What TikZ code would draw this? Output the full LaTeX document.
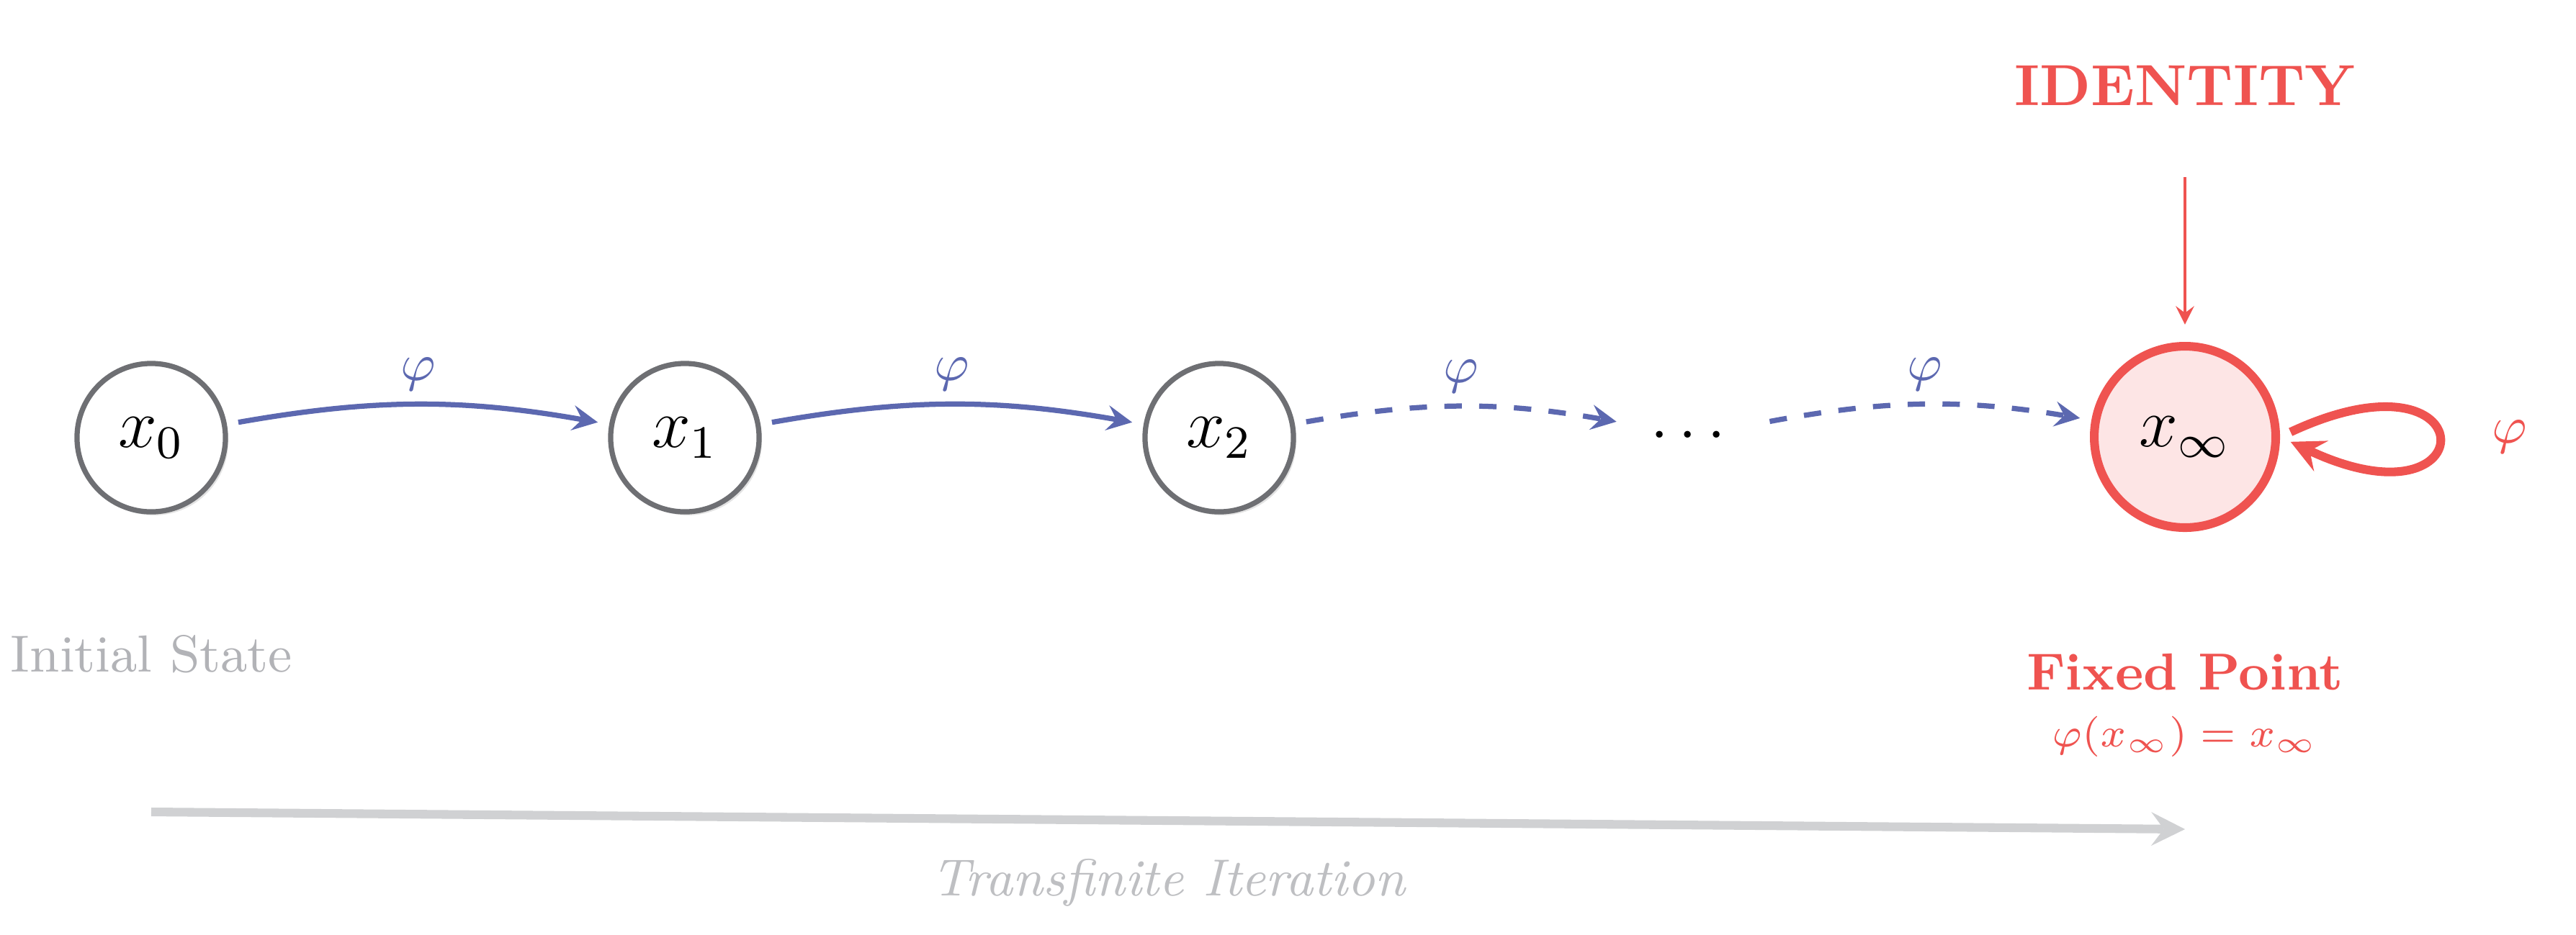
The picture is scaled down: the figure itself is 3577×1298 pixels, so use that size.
\documentclass[tikz,border=0pt]{standalone}
\usetikzlibrary{arrows,shadows,calc}
\definecolor{cblue}{RGB}{92,104,176}
\definecolor{cred}{RGB}{239,83,80}
\definecolor{cgray}{RGB}{110,111,115}
\definecolor{ctext}{RGB}{178,179,183}
\definecolor{ctextb}{RGB}{190,191,194}
\definecolor{carrow}{RGB}{208,209,211}
\begin{document}
\begin{tikzpicture}[x=0.12422pt,y=-0.12422pt,
  softshadow/.style={drop shadow={shadow xshift=0.5pt,shadow yshift=-0.6pt,opacity=0.22}},
  statenode/.style={circle,draw=cgray,line width=0.9pt,minimum size=0.9cm,inner sep=0pt,fill=white,font=\large,softshadow},
  fixednode/.style={circle,draw=cred,line width=1.5pt,minimum size=1.1cm,inner sep=0pt,fill=cred!15,font=\large,softshadow},
  iter/.style={->,>=stealth,draw=cblue,line width=0.9pt,shorten >=2pt,shorten <=2pt,bend left=10},
  philab/.style={font=\small,inner sep=2pt,text=cblue},
]
\useasboundingbox (0,0) rectangle (3577,1298);

\node[statenode] (x0) at (210,608) {$x_0$};
\node[statenode] (x1) at (951,608) {$x_1$};
\node[statenode] (x2) at (1693,608) {$x_2$};
\node[font=\large,inner sep=3.6pt] (dots) at (2351,604) {.\kern1.7pt.\kern1.7pt.\kern1.7pt};
\node[fixednode] (xinf) at (3034,607) {$x_\infty$};

\draw[iter] (x0) to node[philab,above] {$\varphi$} (x1);
\draw[iter] (x1) to node[philab,above] {$\varphi$} (x2);
\draw[iter,dashed] (x2) to node[philab,above] {$\varphi$} (dots);
\draw[iter,dashed] (dots) to node[philab,above] {$\varphi$} (xinf);

\draw[->,>=stealth,draw=cred,line width=1.5pt,shorten >=2pt,shorten <=2pt]
  (xinf.east) to[out=25,in=-25,min distance=39.5pt]
  node[pos=0.5,right=7pt,font=\small,inner sep=2pt,text=cred] {$\varphi$} (xinf.east);

\node[font=\bfseries,text=cred] (identity) at (3034,118.5) {IDENTITY};
\coordinate (idtop) at (3034,245.5);
\draw[->,>=stealth,draw=cred,line width=0.4pt,shorten >=3pt] (idtop) -- (xinf);

\node[font=\small,text=ctext] (init) at (210.5,909) {Initial State};
\node[font=\small\bfseries,text=cred] (fixed) at (3034,934) {Fixed Point};
\node[font=\scriptsize,text=cred] (fixedeq) at (3034,1023) {$\varphi(x_\infty)=x_\infty$};

\coordinate (ts) at (210,1128);
\coordinate (te) at (3034,1152);
\draw[->,>=stealth,draw=carrow,line width=1.5pt] (ts) -- node[midway,below=2.5pt,font=\small\itshape,text=ctextb] {Transfinite Iteration} (te);
\end{tikzpicture}
\end{document}
